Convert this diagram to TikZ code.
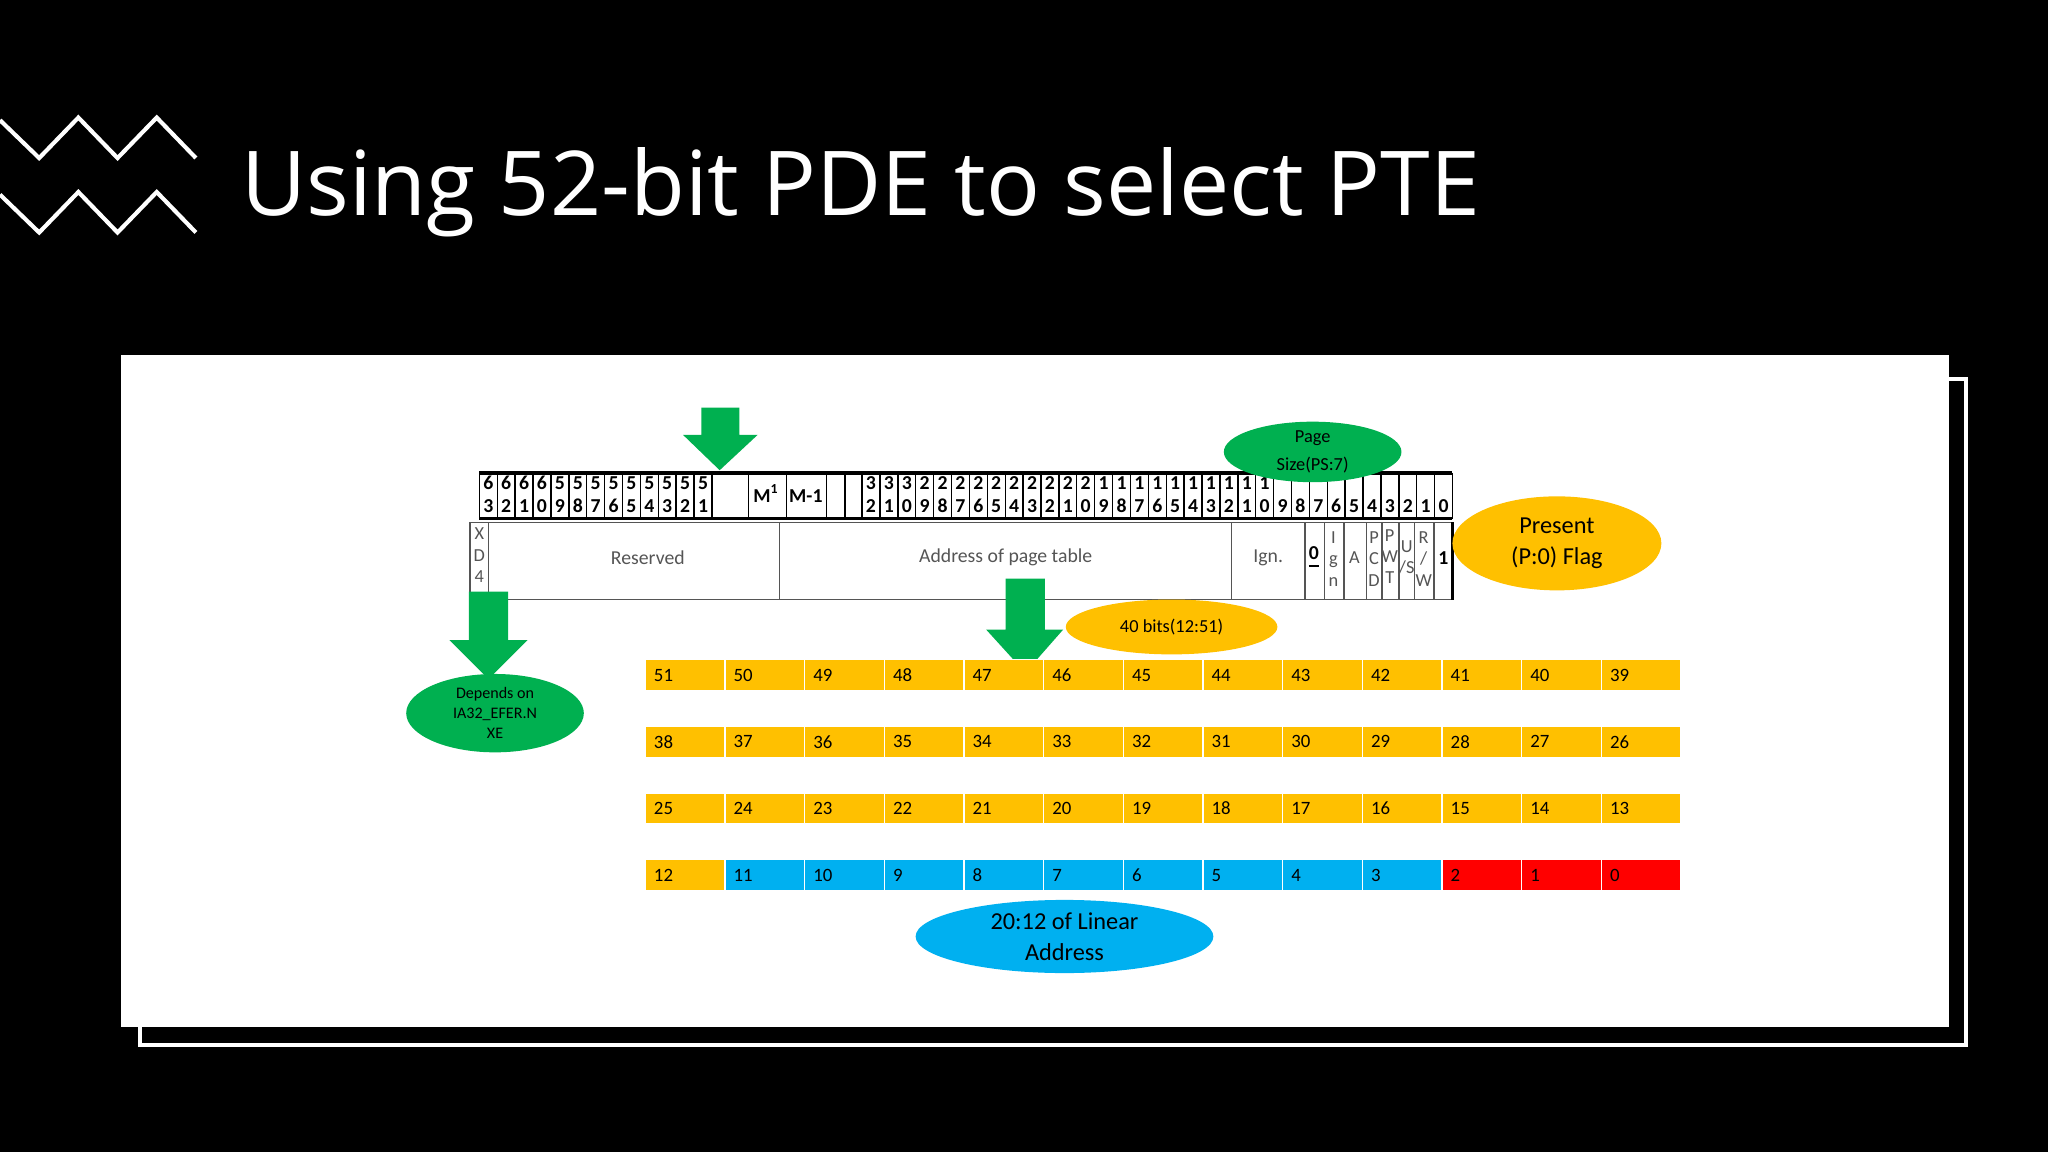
\documentclass[tikz,border=0pt]{standalone}
\usepackage{fontspec}
\setmainfont{Carlito}
\newfontfamily\titlefont{Open Sans}
\definecolor{gr}{HTML}{00B050}
\definecolor{yl}{HTML}{FFC000}
\definecolor{bl}{HTML}{00B0F0}
\definecolor{rd}{HTML}{FF0000}
\definecolor{tx}{HTML}{555555}
\tikzset{
 garrow/.style={fill=gr,draw=none},
 ell/.style={ellipse,inner sep=0pt,align=center,text=black},
 hd/.style={font=\fontsize{4.3}{4.3}\selectfont\bfseries,inner sep=0pt,anchor=base},
 bd/.style={font=\fontsize{4}{4.6}\selectfont,text=tx,inner sep=0pt,align=center},
 cellbox/.style={draw=white,line width=0.3pt,minimum width=61*0.1mm,minimum height=24*0.1mm,inner sep=0pt},
 num/.style={font=\fontsize{4.1}{4.1}\selectfont,anchor=west,inner sep=0pt,text=black}
}
\usetikzlibrary{shapes.geometric}
\begin{document}
\begin{tikzpicture}[x=0.1mm,y=-0.1mm]
\fill[black] (0,0) rectangle (1568,882);
\useasboundingbox (0,0) rectangle (1568,882);
% zigzags
\draw[white,line width=0.9pt] (0,92)--(30,121)--(60,90)--(90,121)--(120,90)--(150,121);
\draw[white,line width=0.9pt] (0,149)--(30,178)--(60,147)--(90,178)--(120,147)--(150,178);
\node[anchor=base west,inner sep=0pt,text=white,font=\titlefont\fontsize{19.5}{20}\selectfont] (title) at (184,165) {Using 52-bit PDE to select PTE};
% panel
\draw[white,line width=0.9pt] (107,290) rectangle (1505,800);
\fill[white] (93,272) rectangle (1492,786);
% header
\foreach \i in {0,...,12}{
 \pgfmathtruncatemacro{\b}{63-\i}
 \pgfmathtruncatemacro{\t}{div(\b,10)}
 \pgfmathtruncatemacro{\o}{mod(\b,10)}
 \draw[line width=0.3pt] ({367+13.7*\i},362) -- ({367+13.7*\i},397);
 \node[hd] at ({367+13.7*\i+6.85},375) {\t};
 \node[hd] at ({367+13.7*\i+6.85},392) {\o};
}
\foreach \x in {545,573,602,633,647}{\draw[line width=0.3pt] (\x,362)--(\x,397);}
\node[hd] at (587,385) {M$^{\mathbf 1}$};
\node[hd] at (617,385) {M-1};
\foreach \b in {0,...,32}{
 \pgfmathsetmacro{\xx}{660+13.7*(32-\b)}
 \pgfmathtruncatemacro{\t}{div(\b,10)}
 \pgfmathtruncatemacro{\o}{mod(\b,10)}
 \draw[line width=0.3pt] (\xx,362) -- (\xx,397);
 \ifnum\b>9 \node[hd] at (\xx+6.85,375) {\t};\fi
 \node[hd] at (\xx+6.85,392) {\o};
}
\draw[line width=0.3pt] (1112,362)--(1112,397);
\draw[line width=0.8pt] (367,362)--(1112,362);
\draw[line width=0.6pt] (367,397)--(1112,397);
% body
\draw[draw=tx,line width=0.4pt] (360,400) rectangle (1112,459);
\draw[black,line width=0.6pt] (1112,400)--(1112,459);
\foreach \x in {374,597,943,999,1014,1029,1046,1058,1071,1083,1098}{\draw[tx,line width=0.3pt] (\x,400)--(\x,459);}
\node[bd] (xd) at (367,425) {X\\D\\4};
\node[bd,font=\fontsize{4.3}{5}\selectfont] (res) at (496,427) {Reserved};
\node[bd,font=\fontsize{4.3}{5}\selectfont] (addr) at (770,427) {Address of page table};
\node[bd,font=\fontsize{4.3}{5}\selectfont] (ign) at (971,427) {Ign.};
\node[bd,text=black,font=\fontsize{4.3}{5}\selectfont\bfseries] (z) at (1006,427) {\underline{0}};
\node[bd] (ig) at (1021,428) {I\\g\\n};
\node[bd] (a) at (1037,427) {A};
\node[bd] (pcd) at (1052,428) {P\\C\\D};
\node[bd] (pwt) at (1064,426) {P\\W\\T};
\node[bd] (us) at (1077,427) {U\\/S};
\node[bd] (rw) at (1090,428) {R\\/\\W};
\node[bd,text=black,font=\fontsize{4.3}{5}\selectfont\bfseries] (one) at (1105,427) {1};
% arrows
\fill[garrow] (537,312)--(566,312)--(566,333)--(580,333)--(551,360)--(523,333)--(537,333)--cycle;
\fill[garrow] (359,453)--(389,453)--(389,490)--(404,490)--(374,520)--(344,490)--(359,490)--cycle;
\fill[garrow] (770,443)--(800,443)--(800,482)--(814,482)--(785,515)--(755,482)--(770,482)--cycle;
% ellipses
\node[ell,fill=gr,minimum width=136*0.1mm,minimum height=40*0.1mm,font=\fontsize{4}{6.2}\selectfont] (ps) at (1005,346) {Page\\Size(PS:7)};
\node[ell,fill=yl,minimum width=160*0.1mm,minimum height=72*0.1mm,font=\fontsize{5.3}{6.7}\selectfont] (pres) at (1192,416) {Present\\(P:0) Flag};
\node[ell,fill=yl,minimum width=162*0.1mm,minimum height=42*0.1mm,font=\fontsize{4}{5}\selectfont] (forty) at (897,480) {40 bits(12:51)};
\node[ell,fill=gr,minimum width=136*0.1mm,minimum height=60*0.1mm,font=\fontsize{3.5}{4.4}\selectfont] (dep) at (379,546) {Depends on\\IA32\_EFER.N\\XE};
% rows
\foreach \r/\y in {0/517,1/568,2/619}{
 \foreach \c in {0,...,12}{
  \pgfmathtruncatemacro{\v}{51-13*\r-\c}
  \node[cellbox,fill=yl] (r\r c\c) at ({494+30.5+61*\c},\y) {};
  \node[num] at ({494+6+61*\c},\y) {\v};
 }
}
\foreach \c in {0,...,12}{
 \pgfmathtruncatemacro{\v}{12-\c}
 \ifnum\c=0 \def\cc{yl}\else\ifnum\c>9 \def\cc{rd}\else\def\cc{bl}\fi\fi
 \node[cellbox,fill=\cc] (r3c\c) at ({494+30.5+61*\c},670) {};
 \node[num] at ({494+6+61*\c},670) {\v};
}
\node[ell,fill=bl,minimum width=228*0.1mm,minimum height=56*0.1mm,font=\fontsize{5.3}{6.7}\selectfont] (lin) at (815,717) {20:12 of Linear\\Address};
\end{tikzpicture}
\end{document}
